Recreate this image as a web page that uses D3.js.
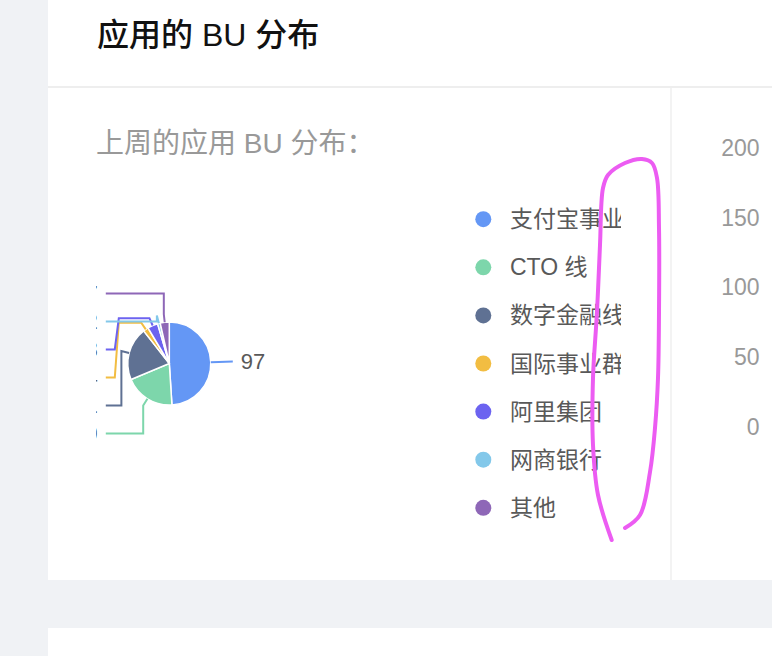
<!DOCTYPE html>
<html>
<head>
<meta charset="utf-8">
<script src="https://cdn.jsdelivr.net/npm/d3@7/dist/d3.min.js"></script>
<style>
  body { margin: 0; background: #f0f2f5; font-family: "Liberation Sans", "Noto Sans CJK SC", sans-serif; }
  svg { display: block; }
</style>
</head>
<body>
<svg id="page" width="772" height="656"></svg>
<script>
// data
const categories = ['支付宝事业群', 'CTO 线', '数字金融线', '国际事业群', '阿里集团', '网商银行', '其他'];
const counts = [97, 39, 41, 4, 8, 2, 7];
const sliceColors = ['#6497f5', '#7dd6ab', '#5f7193', '#f2bd42', '#6c63f0', '#83c8ea', '#8e67b7'];
const yTicks = [0, 50, 100, 150, 200];
const titleText = '应用的 BU 分布';
const subtitleText = '上周的应用 BU 分布：';

// hand drawn marker that sits on top of the screenshot
const scribble = [[611.7,540],[598,495],[593,445],[593,378],[597,312],[600,245],[603,188],[608,175],
  [625,163],[642,159],[652,163],[657,178],[659,228],[659,312],[658,378],[655,428],[650,472],[640,515],[625,528]];

const svg = d3.select('#page');

// cards
svg.append('rect').attr('x', 48).attr('y', 0).attr('width', 724).attr('height', 580).attr('fill', '#fff');
svg.append('rect').attr('x', 48).attr('y', 628).attr('width', 724).attr('height', 28).attr('fill', '#fff');
svg.append('line').attr('x1', 48).attr('x2', 772).attr('y1', 87).attr('y2', 87)
   .attr('stroke', '#e8e8e8').attr('stroke-width', 1.5);
svg.append('line').attr('x1', 671).attr('x2', 671).attr('y1', 88).attr('y2', 580)
   .attr('stroke', '#efefef').attr('stroke-width', 1.5);

svg.append('text').attr('x', 97).attr('y', 46)
   .attr('font-size', 32).attr('font-weight', 500).attr('fill', '#111')
   .text(titleText);
svg.append('text').attr('x', 96).attr('y', 153)
   .attr('font-size', 28).attr('fill', '#999')
   .text(subtitleText);

// pie chart box, clipped like the original container
const box = { x: 96, y: 170, w: 525, h: 387 };
svg.append('clipPath').attr('id', 'pieClip')
   .append('rect').attr('width', box.w).attr('height', box.h);

const chart = svg.append('g')
   .attr('transform', `translate(${box.x},${box.y})`)
   .attr('clip-path', 'url(#pieClip)');

const cx = 73.3, cy = box.h / 2, r = 41.5;
const color = d3.scaleOrdinal().domain(categories).range(sliceColors);

const pie = d3.pie().sort(null).value(d => d.value);
const arcs = pie(categories.map((c, i) => ({ name: c, value: counts[i] })));
const arc = d3.arc().innerRadius(0).outerRadius(r);

const pieG = chart.append('g').attr('transform', `translate(${cx},${cy})`);
pieG.selectAll('path')
   .data(arcs)
   .enter()
   .append('path')
   .attr('d', arc)
   .attr('fill', d => color(d.data.name))
   .attr('stroke', '#fff')
   .attr('stroke-width', 1.5);

// outer labels with a simple spread layout
const lineH = 28;
const labels = arcs.map(d => {
  const mid = (d.startAngle + d.endAngle) / 2;
  return {
    d, mid,
    side: Math.sin(mid) >= 0 ? 1 : -1,
    y: -(r + 21) * Math.cos(mid)
  };
});
[1, -1].forEach(side => {
  const group = labels.filter(l => l.side === side).sort((a, b) => a.y - b.y);
  let crowded = false;
  for (let i = 1; i < group.length; i++) if (group[i].y - group[i - 1].y < lineH) crowded = true;
  if (crowded) group.forEach((l, i) => { l.y = (i - (group.length - 1) / 2) * lineH; });
});

const line = d3.line();
labels.forEach(l => {
  const s = Math.sin(l.mid), c = Math.cos(l.mid);
  const p0 = [r * s, -r * c];
  const p1 = [(r + 8) * s, -(r + 8) * c];
  const endX = l.side * (r + 22);
  let pts;
  if (l.side > 0 || l.y < -r || l.y > r) {
    pts = l.side > 0 ? [p0, p1, [endX, l.y]] : [p0, p1, [p1[0], l.y], [endX, l.y]];
  } else {
    const turnX = -(r + 9);
    pts = [p0, p1, [turnX, p1[1]], [turnX - 4, l.y], [endX, l.y]];
  }
  pieG.append('path')
     .attr('d', line(pts))
     .attr('fill', 'none')
     .attr('stroke', color(l.d.data.name))
     .attr('stroke-width', 2);
  pieG.append('text')
     .attr('x', endX + l.side * 8)
     .attr('y', l.y)
     .attr('dy', '0.35em')
     .attr('text-anchor', l.side > 0 ? 'start' : 'end')
     .attr('font-size', 22)
     .attr('fill', '#595959')
     .text(l.d.data.value);
});

// legend
const legendY = d3.scalePoint().domain(categories)
   .range([cy - 3 * 48.1, cy + 3 * 48.1]);
const legend = chart.append('g').attr('transform', `translate(${483.3 - box.x},0)`);
const item = legend.selectAll('g')
   .data(categories)
   .enter()
   .append('g')
   .attr('transform', d => `translate(0,${legendY(d)})`);
item.append('circle').attr('r', 8).attr('fill', d => color(d));
item.append('text')
   .attr('x', 26.7)
   .attr('dy', '0.35em')
   .attr('font-size', 23)
   .attr('fill', '#595959')
   .text(d => d);

// right panel axis (chart body is outside the window)
const y = d3.scaleLinear().domain([0, 200]).range([426.7, 148.3]);
const yAxis = d3.axisLeft(y).tickValues(yTicks).tickSize(0).tickPadding(0);
const axisG = svg.append('g').attr('transform', 'translate(759.5,0)').call(yAxis);
axisG.select('.domain').remove();
axisG.selectAll('text')
   .attr('font-size', 23)
   .attr('font-family', '"Liberation Sans", sans-serif')
   .attr('fill', '#999');

// marker
svg.append('path')
   .attr('d', d3.line().curve(d3.curveCatmullRom)(scribble))
   .attr('fill', 'none')
   .attr('stroke', '#ec5cf2')
   .attr('stroke-width', 4)
   .attr('stroke-linecap', 'round');
</script>
</body>
</html>
